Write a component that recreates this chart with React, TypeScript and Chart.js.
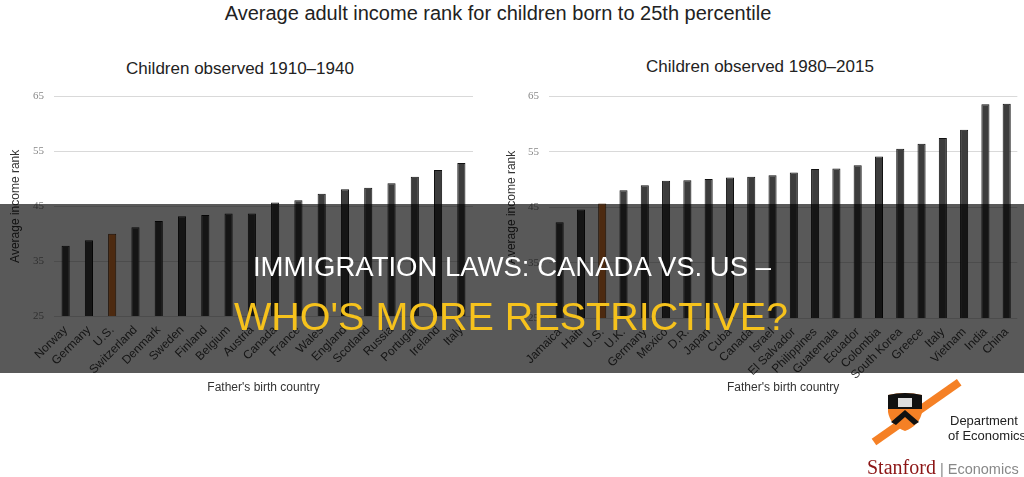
import React, { useEffect, useRef } from "react";
import { Chart, registerables } from "chart.js";

Chart.register(...registerables);

const mainTitle = "Average adult income rank for children born to 25th percentile";
const leftSubtitle = "Children observed 1910–1940";
const rightSubtitle = "Children observed 1980–2015";
const yAxisTitle = "Average income rank";
const xAxisTitle = "Father's birth country";
const highlightCategory = "U.S.";

const leftCategories = [
  "Norway", "Germany", "U.S.", "Switzerland", "Denmark", "Sweden", "Finland", "Belgium", "Austria",
  "Canada", "France", "Wales", "England", "Scotland", "Russia", "Portugal", "Ireland", "Italy",
];
const leftValues = [37.8, 38.8, 40.0, 41.2, 42.3, 43.2, 43.4, 43.7, 43.7, 45.7, 46.1, 47.3, 48.1, 48.4, 49.2, 50.4, 51.6, 52.9];

const rightCategories = [
  "Jamaica", "Haiti", "U.S.", "U.K.", "Germany", "Mexico", "D.R.", "Japan", "Cuba", "Canada", "Israel",
  "El Salvador", "Philippines", "Guatemala", "Ecuador", "Colombia", "South Korea", "Greece", "Italy",
  "Vietnam", "India", "China",
];
const rightValues = [42.3, 44.6, 45.7, 48.1, 49.0, 49.8, 49.9, 50.1, 50.4, 50.5, 50.8, 51.3, 51.9, 52.0, 52.6, 54.2, 55.6, 56.5, 57.5, 59.0, 63.6, 63.7];

const yTickValues = [25, 35, 45, 55, 65];

const bannerLine1 = "IMMIGRATION LAWS: CANADA VS. US –";
const bannerLine2 = "WHO'S MORE RESTRICTIVE?";

type PanelProps = {
  categories: string[];
  values: number[];
  left: number;
  top: number;
  width: number;
  height: number;
  yWidth: number;
  xHeight: number;
  padTop: number;
  padRight: number;
  barPct: number;
  yTitlePad: number;
};

function BarPanel(p: PanelProps) {
  const ref = useRef<HTMLCanvasElement | null>(null);
  useEffect(() => {
    if (!ref.current) return;
    const bg = p.categories.map((c) => (c === highlightCategory ? "#dc7a2e" : "#3d3d3d"));
    const bd = p.categories.map((c) => (c === highlightCategory ? "#5a2d0c" : "#111111"));
    const chart = new Chart(ref.current, {
      type: "bar",
      data: {
        labels: p.categories,
        datasets: [
          {
            data: p.values,
            backgroundColor: bg,
            borderColor: bd,
            borderWidth: 1,
            barPercentage: p.barPct,
            categoryPercentage: 1,
          },
        ],
      },
      options: {
        animation: false,
        responsive: false,
        layout: { padding: { top: p.padTop, right: p.padRight, left: 0, bottom: 0 } },
        plugins: { legend: { display: false }, tooltip: { enabled: false }, title: { display: false } },
        scales: {
          x: {
            grid: { display: false, drawTicks: false },
            border: { display: false },
            ticks: {
              minRotation: 45,
              maxRotation: 45,
              autoSkip: false,
              padding: 7,
              color: "#404040",
              font: { family: "'Liberation Sans', Arial, sans-serif", size: 12 },
            },
            title: {
              display: true,
              text: xAxisTitle,
              color: "#333333",
              padding: { top: 0, bottom: 5 },
              font: { family: "'Liberation Sans', Arial, sans-serif", size: 12 },
            },
            afterFit: (s: any) => {
              s.height = p.xHeight;
            },
          },
          y: {
            min: 25,
            max: 65,
            grid: { color: "#d9d9d9", lineWidth: 1, drawTicks: false },
            border: { display: false },
            afterBuildTicks: (s: any) => {
              s.ticks = yTickValues.map((v) => ({ value: v }));
            },
            ticks: {
              padding: 10,
              color: "#888888",
              font: { family: "'Liberation Serif', 'Times New Roman', serif", size: 11 },
            },
            title: {
              display: true,
              text: yAxisTitle,
              color: "#333333",
              padding: { top: p.yTitlePad, bottom: 0 },
              font: { family: "'Liberation Sans', Arial, sans-serif", size: 12 },
            },
            afterFit: (s: any) => {
              s.width = p.yWidth;
            },
          },
        },
      },
    });
    return () => chart.destroy();
  }, []);
  return (
    <canvas
      ref={ref}
      width={p.width}
      height={p.height}
      style={{ position: "absolute", left: p.left, top: p.top, width: p.width, height: p.height }}
    />
  );
}

const sans = "'Liberation Sans', Arial, sans-serif";
const nowrap: React.CSSProperties = { whiteSpace: "nowrap" };

export default function App() {
  return (
    <div
      style={{
        position: "fixed",
        left: 0,
        top: 0,
        width: 1024,
        height: 477,
        background: "#ffffff",
        overflow: "hidden",
        fontFamily: sans,
      }}
    >
      <div style={{ ...nowrap, position: "absolute", left: 0, width: 996, top: 1, textAlign: "center", fontSize: 20, color: "#222", lineHeight: "24px" }}>
        {mainTitle}
      </div>
      <div style={{ ...nowrap, position: "absolute", left: 40, width: 400, top: 58, textAlign: "center", fontSize: 17, color: "#222", lineHeight: "21px" }}>
        {leftSubtitle}
      </div>
      <div style={{ ...nowrap, position: "absolute", left: 560, width: 400, top: 56, textAlign: "center", fontSize: 17, color: "#222", lineHeight: "21px" }}>
        {rightSubtitle}
      </div>

      <BarPanel
        categories={leftCategories}
        values={leftValues}
        left={0}
        top={80}
        width={490}
        height={320}
        yWidth={54}
        xHeight={84}
        padTop={14}
        padRight={17}
        barPct={0.35}
        yTitlePad={8}
      />
      <BarPanel
        categories={rightCategories}
        values={rightValues}
        left={490}
        top={80}
        width={534}
        height={320}
        yWidth={59}
        xHeight={82}
        padTop={12}
        padRight={5}
        barPct={0.38}
        yTitlePad={14}
      />

      <div style={{ position: "absolute", left: 0, top: 204, width: 1024, height: 169, background: "rgba(0,0,0,0.65)" }} />
      <div style={{ ...nowrap, position: "absolute", left: 0, width: 1024, top: 251, textAlign: "center", fontSize: 27.5, color: "#ffffff", lineHeight: "32px", fontFamily: sans }}>
        {bannerLine1}
      </div>
      <div style={{ ...nowrap, position: "absolute", left: 0, width: 1022, top: 295, textAlign: "center", fontSize: 39.5, color: "#f6c21c", lineHeight: "42px", fontFamily: sans }}>
        {bannerLine2}
      </div>

      <div style={{ position: "absolute", left: 874, top: 438, width: 104, height: 8, background: "#f58025", transform: "rotate(-35deg)", transformOrigin: "left center" }} />
      <svg style={{ position: "absolute", left: 887, top: 392 }} width={36} height={40} viewBox="0 0 36 40">
        <path d="M1 3 Q18 -1 35 3 L35 20 Q33 33 18 39 Q3 33 1 20 Z" fill="#f58025" />
        <path d="M1 3 Q18 -1 35 3 L35 17 L1 17 Z" fill="#111" />
        <path d="M4 30 L18 18 L32 30 L27 33 L18 25 L9 33 Z" fill="#111" />
        <rect x={11} y={6} width={14} height={9} fill="#ddd" />
      </svg>
      <div style={{ ...nowrap, position: "absolute", left: 950, top: 413, fontSize: 13, color: "#222", lineHeight: "16px" }}>Department</div>
      <div style={{ ...nowrap, position: "absolute", left: 948, top: 428, fontSize: 13, color: "#222", lineHeight: "16px" }}>of Economics</div>
      <div style={{ ...nowrap, position: "absolute", left: 867, top: 455, fontSize: 20, color: "#8c1515", lineHeight: "24px", fontFamily: "'Liberation Serif', 'Times New Roman', serif" }}>
        Stanford
        <span style={{ color: "#888", fontFamily: sans, fontSize: 14.5 }}> | Economics</span>
      </div>
    </div>
  );
}
